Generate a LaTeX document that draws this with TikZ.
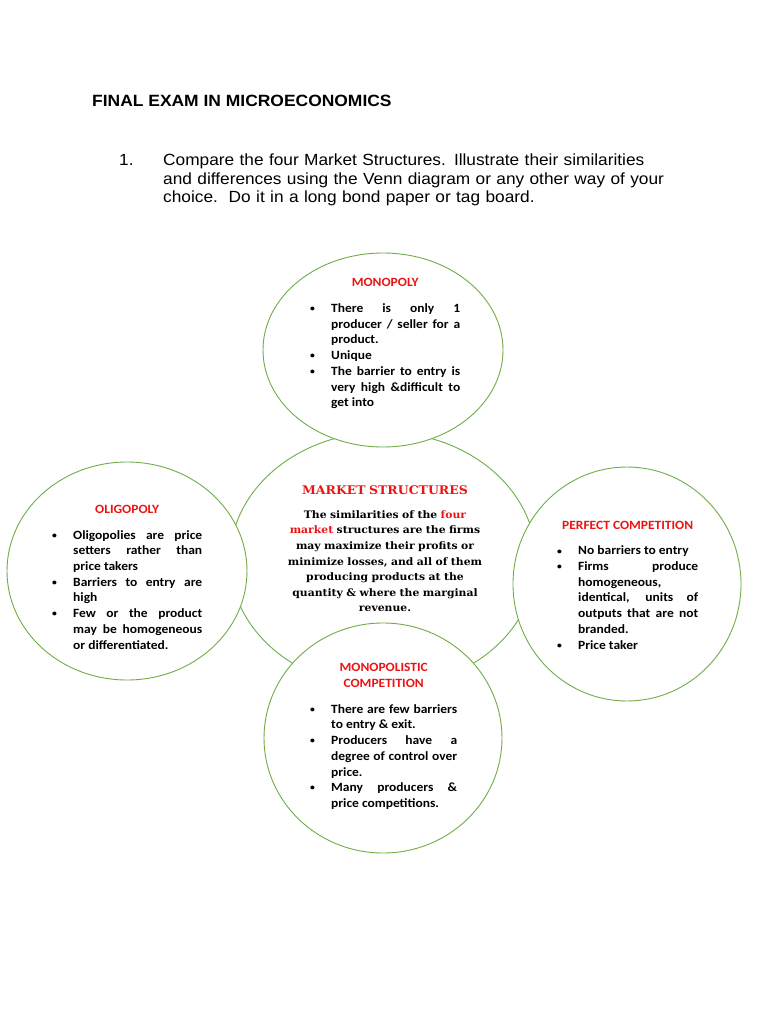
\documentclass[tikz,border=0pt]{standalone}
\usepackage{fontspec}
\usetikzlibrary{shapes.geometric}
\newfontfamily\calibrifont{Carlito}[FakeStretch=1.07]
\newfontfamily\arialfont{Liberation Sans}[FakeStretch=1.07]
\newfontfamily\cambriafont{DejaVu Serif}[FakeStretch=1.05]
\definecolor{ringgreen}{RGB}{112,173,71}
\definecolor{headred}{RGB}{235,20,20}
\hyphenpenalty=10000
\exhyphenpenalty=10000
\newcommand{\notefont}{\calibrifont\bfseries\fontsize{12.6}{15.7}\selectfont}
\newcommand{\corefont}{\cambriafont\bfseries\fontsize{10.3}{15.6}\selectfont}
\newcommand{\qfont}{\arialfont\fontsize{16.15}{18.5}\selectfont}
\newcommand{\bul}{\par\noindent\hangindent=21pt\hangafter=1\makebox[21pt][l]{\fontsize{9}{9}\selectfont\raisebox{0.8pt}{\textbullet}}}
\newcommand{\headline}[1]{{\centering\color{headred}#1\par}\vspace{10.1pt}}

\begin{document}
\begin{tikzpicture}[
    x=1pt,y=-1pt,
    ring/.style={ellipse,draw=ringgreen,line width=0.9pt,fill=white,inner sep=0pt},
    notes/.style={text width=#1,align=justify,anchor=base west,inner sep=0pt,font=\notefont},
]
\fill[white] (0,0) rectangle (768,1024);
\useasboundingbox (0,0) rectangle (768,1024);
% heading and question
\node[anchor=base west,inner sep=0pt,font=\arialfont\bfseries\fontsize{16.3}{20}\selectfont] (title) at (92,107) {FINAL EXAM IN MICROECONOMICS};
\node[anchor=base west,inner sep=0pt,font=\qfont] (num) at (119,166) {1.};
\node[anchor=base west,inner sep=0pt,font=\qfont,text width=580pt,align=left] (question) at (163,166)
  {Compare the four Market Structures. Illustrate their similarities\\
   and differences using the Venn diagram or any other way of your\\
   choice.\ \ Do it in a long bond paper or tag board.};
% core circle first, the four others lie over it
\node[ring,minimum width=306pt,minimum height=256pt] (core) at (383,560) {};
\node[ring,minimum width=240pt,minimum height=194pt] (mono) at (383,350) {};
\node[ring,minimum width=240pt,minimum height=218pt] (oligo) at (127,571) {};
\node[ring,minimum width=228pt,minimum height=234pt] (perfect) at (627,584) {};
\node[ring,minimum width=238pt,minimum height=230pt] (moncomp) at (383,738) {};
% texts
\node[font=\corefont,align=center,text width=240pt,anchor=base,inner sep=0pt] (coretext) at (385,494.3)
  {{\fontsize{11.9}{15.6}\selectfont\textcolor{headred}{MARKET STRUCTURES}}\\[8.4pt]
   The similarities of the \textcolor{headred}{four}\\
   \textcolor{headred}{market} structures are the firms\\
   may maximize their profits or\\
   minimize losses, and all of them\\
   producing products at the\\
   quantity \& where the marginal\\
   revenue.};
\node[notes=150pt] (monotext) at (310,286.7)
  {\headline{MONOPOLY}%
   \bul There is only 1\linebreak producer / seller for a\linebreak product.
   \bul Unique
   \bul The barrier to entry is\linebreak very high \&difficult to\linebreak get into\par};
\node[notes=150pt] (oligotext) at (52,513.3)
  {\headline{OLIGOPOLY}%
   \bul Oligopolies are price\linebreak setters rather than\linebreak price takers
   \bul Barriers to entry are\linebreak high
   \bul Few or the product\linebreak may be homogeneous\linebreak or differentiated.\par};
\node[notes=141pt] (perfecttext) at (557,529)
  {\headline{PERFECT COMPETITION}%
   \bul No barriers to entry
   \bul Firms produce\linebreak homogeneous,\linebreak identical, units of\linebreak outputs that are not\linebreak branded.
   \bul Price taker\par};
\node[notes=147pt] (moncomptext) at (310,671.7)
  {\headline{MONOPOLISTIC\\COMPETITION}%
   \bul There are few barriers\linebreak to entry \& exit.
   \bul Producers have a\linebreak degree of control over\linebreak price.
   \bul Many producers \&\linebreak price competitions.\par};
\end{tikzpicture}
\end{document}
